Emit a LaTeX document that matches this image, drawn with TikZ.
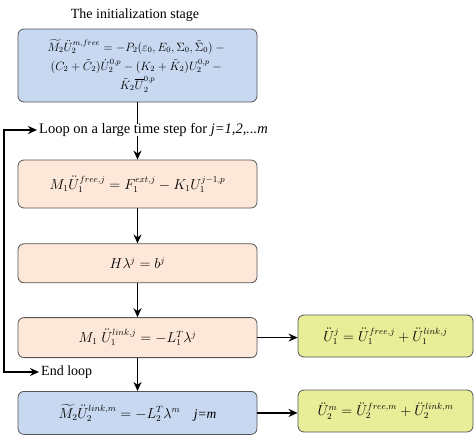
\documentclass[tikz,border=0pt]{standalone}
\usepackage{amsmath}
\usepackage{amssymb}
\usepackage{fontspec}
\setmainfont{Liberation Serif}
\usepackage{tikz}
\usetikzlibrary{positioning,arrows.meta}
\usepackage{xcolor}
\definecolor{initblue}{HTML}{C7D8F0}
\definecolor{steppeach}{HTML}{FCE7D9}
\definecolor{sumyellow}{HTML}{E8EE98}
\definecolor{boxline}{HTML}{555555}

\begin{document}
\begin{tikzpicture}[x=1pt,y=-1pt,
		box/.style={draw=boxline,line width=0.8pt,rounded corners=6pt,align=center,minimum width=239pt,inner sep=2pt,font=\fontsize{13.5}{15}\selectfont},
		sumbox/.style={box,minimum width=175pt,font=\fontsize{13.5}{15}\selectfont},
		link/.style={line width=1.5pt,-{Stealth[length=9pt,width=8pt]}},
		txt/.style={inner sep=2pt,font=\fontsize{14}{16}\selectfont}]
			\useasboundingbox (0,0) rectangle (474,434);
			\node[txt] (title) at (135,15) {The initialization stage};
			\node[box,fill=initblue,minimum height=73pt,font=\fontsize{12}{19}\selectfont] (init) at (137.5,65.5)
			{$\widetilde{M_2}\ddot{U}_2^{m,free}=-P_2(\varepsilon_0,E_0,\Sigma_0,\tilde{\Sigma}_0)-{}$\\
			$(C_2+\tilde{C}_2)\dot{U}_2^{0,p}-(K_2+\tilde{K}_2)U_2^{0,p}-{}$\\
			$\tilde{K}_2\overline{U}_2^{0,p}$};
			\node[txt,anchor=west,font=\fontsize{14.5}{16}\selectfont] (loop) at (37,130) {Loop on a large time step for \textit{j=1,2,...m}};
			\node[box,fill=steppeach,minimum height=48pt] (free) at (137.5,184) {$M_1\ddot{U}_1^{free,j}=F_1^{ext,j}-K_1U_1^{j-1,p}$};
			\node[box,fill=steppeach,minimum height=39pt,below=35pt of free] (solve) {$H\lambda^j=b^j$};
			\node[box,fill=steppeach,minimum height=40pt,below=34pt of solve] (corr) {$M_1\;\ddot{U}_1^{link,j}=-L_1^T\lambda^j$};
			\node[txt,anchor=west] (endloop) at (39,372) {End loop};
			\node[box,fill=initblue,minimum height=43pt,below=33pt of corr] (last) {$\widetilde{M_2}\ddot{U}_2^{link,m}=-L_2^T\lambda^m$\quad\textit{j=m}};
			\node[sumbox,fill=sumyellow,minimum height=42pt] (sum1) at (385.5,336) {$\ddot{U}_1^j=\ddot{U}_1^{free,j}+\ddot{U}_1^{link,j}$};
			\node[sumbox,fill=sumyellow,minimum height=42pt] (sum2) at (385.5,411) {$\ddot{U}_2^m=\ddot{U}_2^{free,m}+\ddot{U}_2^{link,m}$};
			\coordinate (lft) at (4,372);
			\draw[line width=1.5pt] (init.south) -- ([yshift=-3pt]init.south |- loop.north);
			\draw[link] ([yshift=3pt]init.south |- loop.south) -- (free.north);
			\draw[link] (free) -- (solve);
			\draw[link] (solve) -- (corr);
			\draw[link] (corr) -- (last);
			\draw[link] (corr.east) -- (corr.east -| sum1.west);
			\draw[link] (last.east) -- (last.east -| sum2.west);
			\draw[line width=1.5pt,{Stealth[length=9pt,width=8pt]}-{Stealth[length=9pt,width=8pt]}] (loop.west) -| (lft) -- (endloop.west);
		\end{tikzpicture}
\end{document}
